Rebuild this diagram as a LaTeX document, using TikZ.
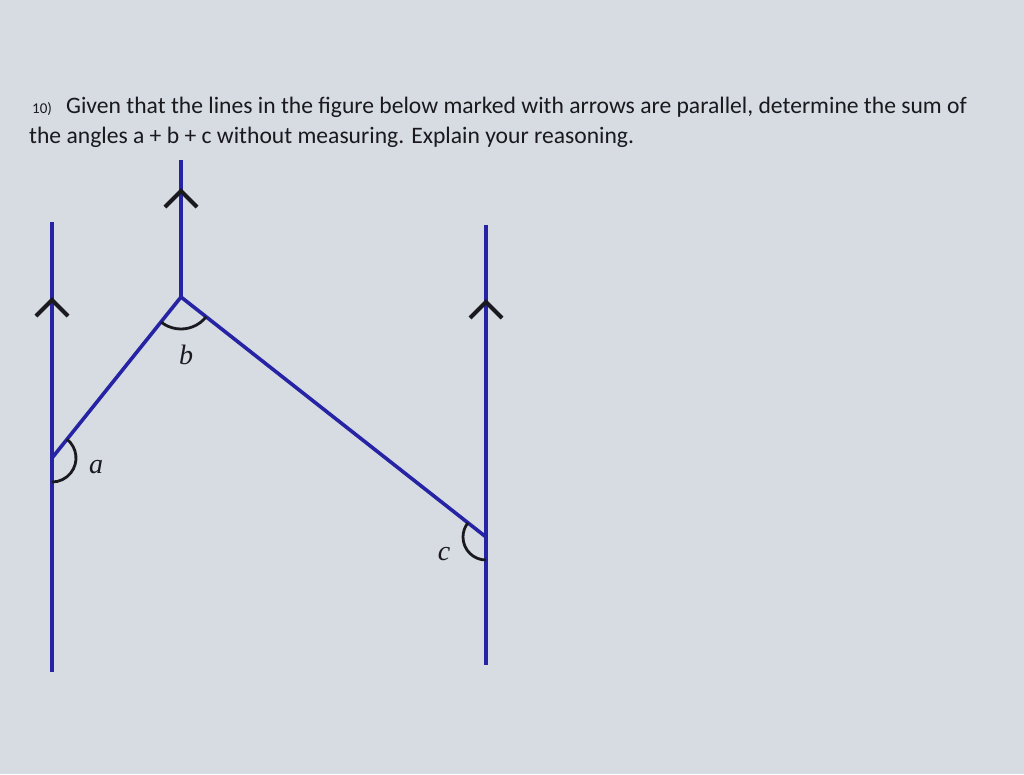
\documentclass[tikz,border=0pt]{standalone}
\usepackage{fontspec}
\setmainfont{Carlito}
\newfontfamily\lblfont{Liberation Serif}
\usetikzlibrary{calc}
\definecolor{paper}{RGB}{214,220,226}
\definecolor{pen}{RGB}{38,36,165}
\definecolor{ink}{RGB}{25,25,30}
\tikzset{
  bluel/.style={draw=pen, line width=3.6pt},
  chev/.style={draw=ink, line width=4pt, line join=miter},
  angarc/.style={draw=ink, line width=2.8pt},
  lbl/.style={font=\lblfont\itshape\fontsize{28}{30}\selectfont, text=ink, inner sep=0pt},
  qtext/.style={font=\fontsize{23.6}{26}\selectfont, text=ink, inner sep=0pt, anchor=base west}
}
\begin{document}
\begin{tikzpicture}[x=1pt,y=-1pt]
\fill[paper] (0,0) rectangle (1024,774);
\useasboundingbox (0,0) rectangle (1024,774);
% question text
\node[qtext, font=\fontsize{15}{17}\selectfont] (num) at (32,113) {10)};
\node[qtext] (q1) at (66,113) {Given that the lines in the figure below marked with arrows are parallel, determine the sum of};
\node[qtext] (q2) at (29,143) {the angles a + b + c without measuring. Explain your reasoning.};
% points
\coordinate (L1) at (52,222);
\coordinate (L2) at (52,672);
\coordinate (M1) at (181,160);
\coordinate (B) at (181,297);
\coordinate (R1) at (486,225);
\coordinate (R2) at (486,665);
\coordinate (A) at (52,458);
\coordinate (C) at (486,537);
% lines
\draw[bluel] (L1) -- (L2);
\draw[bluel] (M1) -- (B);
\draw[bluel] (R1) -- (R2);
\draw[bluel, line join=miter] (A) -- (B) -- (C);
% parallel arrow marks
\coordinate (PL) at (52,300);
\coordinate (PM) at (181,191);
\coordinate (PR) at (486,302);
\foreach \p in {PL,PM,PR}{
  \draw[chev] ($(\p)+(-16,16)$) -- (\p) -- ($(\p)+(16,16)$);
}
% angle arcs
\draw[angarc] ([shift={(-51.5:24)}]A) arc[start angle=-51.5, end angle=90, radius=24];
\draw[angarc] ([shift={(38.2:32)}]B) arc[start angle=38.2, end angle=128.5, radius=32];
\draw[angarc] ([shift={(90:23)}]C) arc[start angle=90, end angle=218.2, radius=23];
% labels
\node[lbl] (la) at (96,467) {a};
\node[lbl] (lb) at (186,355) {b};
\node[lbl] (lc) at (444,554) {c};
\end{tikzpicture}
\end{document}
